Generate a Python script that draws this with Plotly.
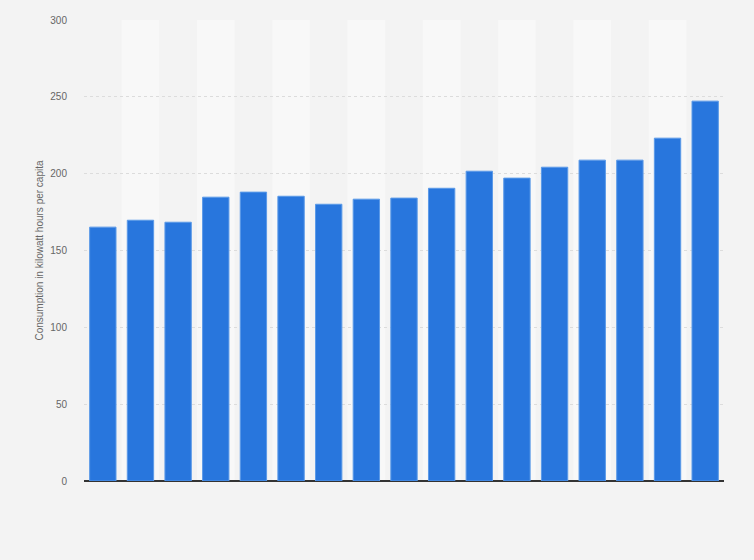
import plotly.graph_objects as go

# Per-capita consumption (x labels are not shown in the chart)
years = [str(y) for y in range(2005, 2022)]
consumption = [165.2, 169.7, 168.4, 184.7, 188.0, 185.3, 180.1, 183.4, 184.1,
               190.5, 201.6, 197.1, 204.2, 208.8, 208.8, 223.1, 247.2]

y_ticks = [0, 50, 100, 150, 200, 250, 300]

BAR_BLUE = "#2876dd"
PAGE_BG = "#f3f3f3"
STRIPE = "#f8f8f8"

fig = go.Figure()
fig.add_trace(go.Bar(
    x=years, y=consumption,
    marker=dict(color=BAR_BLUE, line=dict(color="#5b9ae8", width=1)),
    hovertemplate="%{x}: %{y}<extra></extra>",
))

# lighter background stripe behind every second bar
shapes = []
for i in range(1, len(years), 2):
    shapes.append(dict(
        type="rect", xref="x", yref="paper",
        x0=i - 0.5, x1=i + 0.5, y0=0, y1=1,
        fillcolor=STRIPE, line=dict(width=0), layer="below",
    ))

fig.update_layout(
    width=754, height=560,
    margin=dict(l=84, r=30, t=20, b=79),
    paper_bgcolor=PAGE_BG, plot_bgcolor=PAGE_BG,
    font=dict(family="Liberation Sans, Arial, sans-serif", size=10, color="#666"),
    bargap=0.3,
    showlegend=False,
    shapes=shapes,
)
fig.update_xaxes(
    showticklabels=False, showgrid=False, ticks="",
    showline=False, zeroline=False,
)
fig.update_yaxes(
    range=[0, 300], tickvals=y_ticks,
    showgrid=True, gridcolor="#dcdcdc", griddash="dot", gridwidth=1,
    zeroline=True, zerolinecolor="#333", zerolinewidth=1.5,
    ticks="outside", ticklen=14, tickcolor="rgba(0,0,0,0)",
    tickfont=dict(size=10, color="#666"),
    title=dict(text="Consumption in kilowatt hours per capita",
               font=dict(size=10, color="#666"), standoff=4),
)

# drop the browser's default 8px body margin so the figure sits at the page corner
fig.write_html("out.html",
               config={"displayModeBar": False},
               post_script="document.body.style.margin='0';"
                           "document.body.style.background='#f3f3f3';")
